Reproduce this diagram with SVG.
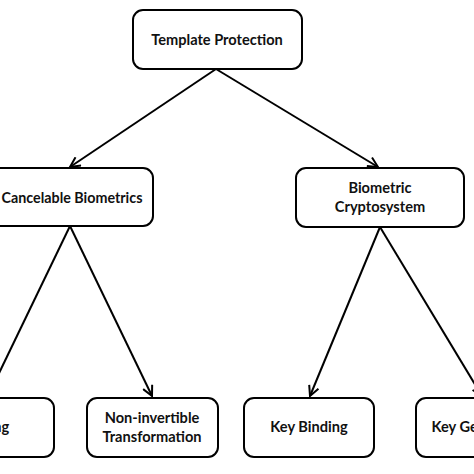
<svg xmlns="http://www.w3.org/2000/svg" width="474" height="474" viewBox="0 0 474 474">
<style>
.box{fill:#fff;stroke:#000;stroke-width:2}
.lbl{font-family:Lato,"Liberation Sans",sans-serif;font-weight:700;font-size:14.6px;fill:#111;text-anchor:middle}
.edge{stroke:#000;stroke-width:2;fill:none;marker-end:url(#arr)}
</style>
<defs>
<marker id="arr" viewBox="0 0 12 12" refX="11" refY="6" markerWidth="12" markerHeight="12" markerUnits="userSpaceOnUse" orient="auto">
<path d="M1,1 L11,6 L1,11" fill="none" stroke="#000" stroke-width="2"/>
</marker>
</defs>
<rect width="474" height="474" fill="#fff"/>
<g id="connectors">
<line class="edge" x1="216" y1="69" x2="70" y2="167"/>
<line class="edge" x1="216" y1="69" x2="378" y2="167"/>
<line class="edge" x1="70" y1="226" x2="-12" y2="396"/>
<line class="edge" x1="70" y1="226" x2="152" y2="396"/>
<line class="edge" x1="380" y1="227" x2="310" y2="396"/>
<line class="edge" x1="380" y1="227" x2="482" y2="396"/>
</g>
<g id="template-protection">
<rect class="box" x="133" y="10" width="169" height="59" rx="10"/>
<text class="lbl" x="217" y="45">Template Protection</text>
</g>
<g id="cancelable-biometrics">
<rect class="box" x="-20" y="168" width="173" height="58" rx="10"/>
<text class="lbl" x="72" y="203" style="font-size:14.3px">Cancelable Biometrics</text>
</g>
<g id="biometric-cryptosystem">
<rect class="box" x="296" y="168" width="168" height="59" rx="10"/>
<text class="lbl" x="380" y="193">Biometric</text>
<text class="lbl" x="380" y="212">Cryptosystem</text>
</g>
<g id="salting">
<rect class="box" x="-77" y="398" width="131" height="59" rx="10"/>
<text class="lbl" x="-13" y="432">Salting</text>
</g>
<g id="non-invertible">
<rect class="box" x="87" y="398" width="131" height="59" rx="10"/>
<text class="lbl" x="152" y="423">Non-invertible</text>
<text class="lbl" x="152" y="442">Transformation</text>
</g>
<g id="key-binding">
<rect class="box" x="244" y="398" width="130" height="59" rx="10"/>
<text class="lbl" x="309" y="432">Key Binding</text>
</g>
<g id="key-generation">
<rect class="box" x="416" y="398" width="130" height="59" rx="10"/>
<text class="lbl" x="482" y="432">Key Generation</text>
</g>
</svg>
